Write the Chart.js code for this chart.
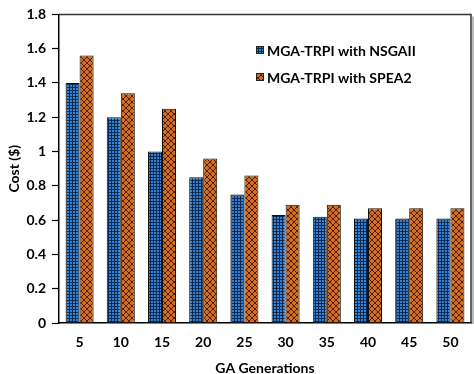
<!DOCTYPE html>
<html>
<head>
<meta charset="utf-8">
<script src="https://cdn.jsdelivr.net/npm/chart.js@4.4.1/dist/chart.umd.min.js"></script>
<style>
html,body{margin:0;padding:0;background:#fff;}
#wrap{width:474px;height:374px;position:relative;}
</style>
</head>
<body>
<div id="wrap"><canvas id="c" width="474" height="374"></canvas></div>
<script>
const categories = ['5','10','15','20','25','30','35','40','45','50'];
const nsgaii = [1.40,1.20,1.00,0.85,0.75,0.63,0.62,0.61,0.61,0.61];
const spea2  = [1.56,1.34,1.25,0.96,0.86,0.69,0.69,0.67,0.67,0.67];
const seriesNames = ['MGA-TRPI with NSGAII','MGA-TRPI with SPEA2'];
const yTicks = ['0','0.2','0.4','0.6','0.8','1','1.2','1.4','1.6','1.8'];

function gridPattern(){
  const c=document.createElement('canvas');c.width=3;c.height=3;
  const x=c.getContext('2d');
  x.fillStyle='#3482d4';x.fillRect(0,0,3,3);
  x.fillStyle='#0d2b52';x.fillRect(0,0,3,1);x.fillRect(0,0,1,3);
  return x.createPattern(c,'repeat');
}
function crossPattern(){
  const c=document.createElement('canvas');c.width=6;c.height=6;
  const x=c.getContext('2d');
  x.fillStyle='#d46d1c';x.fillRect(0,0,6,6);
  x.strokeStyle='#4e2006';x.lineWidth=1;
  x.beginPath();x.moveTo(0,0);x.lineTo(6,6);x.moveTo(0,6);x.lineTo(6,0);
  x.moveTo(-3,3);x.lineTo(3,9);x.moveTo(3,-3);x.lineTo(9,3);
  x.moveTo(-3,3);x.lineTo(3,-3);x.moveTo(3,9);x.lineTo(9,3);
  x.stroke();
  return x.createPattern(c,'repeat');
}
const pats=[gridPattern(),crossPattern()];

const FONT='Lato';
const frame={id:'frame',afterDraw(ch){
  const a=ch.chartArea,ctx=ch.ctx;
  ctx.save();
  ctx.strokeStyle='#333';ctx.lineWidth=1.5;
  ctx.beginPath();ctx.moveTo(a.left,a.top);ctx.lineTo(a.right,a.top);ctx.lineTo(a.right,a.bottom);ctx.stroke();
  ctx.strokeStyle='#bbb';ctx.lineWidth=2;
  ctx.beginPath();ctx.moveTo(a.right+2,a.top+2);ctx.lineTo(a.right+2,a.bottom+1);ctx.stroke();
  ctx.font='bold 14px '+FONT;ctx.textBaseline='middle';ctx.textAlign='left';
  const ys=[50,77];
  for(let i=0;i<2;i++){
    ctx.fillStyle=pats[i];ctx.fillRect(256,ys[i]-4,8,8);
    ctx.strokeStyle='#222';ctx.lineWidth=1;ctx.strokeRect(256.5,ys[i]-3.5,7,7);
    ctx.fillStyle='#000';ctx.fillText(seriesNames[i],267,ys[i]+1);
  }
  ctx.restore();
}};

new Chart(document.getElementById('c'),{
  type:'bar',
  data:{labels:categories,datasets:[
    {label:seriesNames[0],data:nsgaii,backgroundColor:pats[0],borderColor:'#111',borderWidth:1,categoryPercentage:0.68,barPercentage:1},
    {label:seriesNames[1],data:spea2,backgroundColor:pats[1],borderColor:'#111',borderWidth:1,categoryPercentage:0.68,barPercentage:1}
  ]},
  options:{
    responsive:false,animation:false,
    layout:{padding:{left:0,right:3,top:7,bottom:0}},
    plugins:{legend:{display:false},tooltip:{enabled:false}},
    scales:{
      x:{
        grid:{display:true,drawOnChartArea:false,drawTicks:false},
        border:{display:true,color:'#000',width:1.5},
        ticks:{color:'#000',font:{family:FONT,weight:'bold',size:14},padding:11},
        title:{display:true,text:'GA Generations',color:'#000',font:{family:FONT,weight:'bold',size:14},padding:{top:0,bottom:-3}},
        afterFit(s){s.height=51;}
      },
      y:{
        min:0,max:1.8,
        grid:{display:true,drawOnChartArea:false,drawTicks:true,tickLength:7,color:'#000',tickWidth:1.2},
        border:{display:true,color:'#000',width:1.5},
        ticks:{stepSize:0.2,color:'#000',font:{family:FONT,weight:'bold',size:14},padding:6,
          callback:(v,i)=>yTicks[i]},
        title:{display:true,text:'Cost ($)',color:'#000',font:{family:FONT,weight:'bold',size:14},padding:{top:6,bottom:0}},
        afterFit(s){s.width=59;}
      }
    }
  },
  plugins:[frame]
});
</script>
</body>
</html>
